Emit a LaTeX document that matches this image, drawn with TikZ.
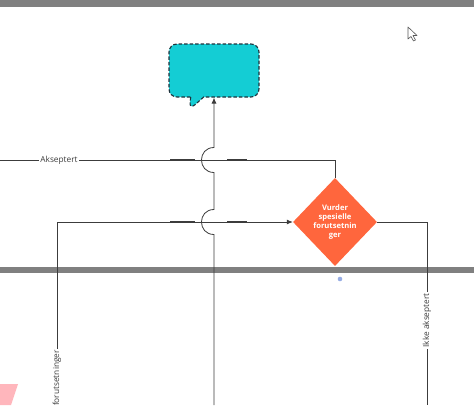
\documentclass[tikz,border=0pt]{standalone}
\usepackage{fontspec}
\setmainfont{Open Sans}
\setsansfont{Open Sans}
\usetikzlibrary{shapes.geometric,shapes.callouts,arrows.meta}
\definecolor{barcol}{RGB}{128,128,128}
\definecolor{linecol}{RGB}{60,60,60}
\definecolor{bubblecol}{RGB}{20,205,212}
\definecolor{bubbleedge}{RGB}{30,50,60}
\definecolor{diacol}{RGB}{255,102,61}
\definecolor{dotcol}{RGB}{150,172,228}
\definecolor{pinkcol}{RGB}{255,182,188}
\begin{document}
\begin{tikzpicture}[x=1pt,y=-1pt,
  bar/.style={fill=barcol,draw=none},
  conn/.style={draw=linecol,line width=0.8pt},
  hopmark/.style={draw=linecol,line width=1.3pt},
  arr/.style={-{Latex[length=6pt,width=5pt]}},
  lbl/.style={fill=white,inner sep=1pt,font=\fontsize{8.3}{10}\selectfont,text=linecol},
  bubble/.style={rectangle callout,rounded corners=8pt,fill=bubblecol,draw=bubbleedge,
    dash pattern=on 3.5pt off 2pt,line width=1.1pt,minimum width=90pt,minimum height=53pt,
    callout pointer width=13pt,inner sep=0pt},
  decision/.style={diamond,fill=diacol,draw=none,minimum width=84pt,minimum height=88pt,
    inner sep=0pt,align=center,text=white,font=\bfseries\fontsize{7.6}{9.3}\selectfont}]
\useasboundingbox (0,0) rectangle (474,405);
\clip (0,0) rectangle (474,405);
\fill[white] (0,0) rectangle (474,405);
% bars
\path[bar] (0,0) rectangle (474,7);
\path[bar] (0,267) rectangle (474,273);
% pink fragment
\fill[pinkcol] (0,384) -- (18,384) -- (11,405) -- (0,405) -- cycle;
% nodes
\node[bubble,callout absolute pointer={(189,110)}] (c) at (214,70.5) {};
\node[decision] (d) at (335,222) {Vurder\\spesielle\\forutsetnin\\ger};
% free ends
\coordinate (vb) at (214,405);
\coordinate (a0) at (0,160);
\coordinate (b0) at (57,405);
\coordinate (r0) at (427,405);
% connectors
\draw[conn] (d.north) |- (a0);
\draw[conn,arr] (b0) |- (d.west);
\draw[conn] (d.east) -| (r0);
\draw[hopmark] (170,160) -- (195,160) (227,160) -- (247,160);
\draw[hopmark] (170,222) -- (195,222) (227,222) -- (247,222);
\draw[conn,arr] (vb) -- (214,234.5) .. controls (197.3,234.5) and (197.3,209.5) .. (214,209.5)
  -- (214,172.5) .. controls (197.3,172.5) and (197.3,147.5) .. (214,147.5) -- (c.south);
% labels
\node[lbl] (la) at (59,160) {Akseptert};
\node[lbl,rotate=90,anchor=east] (lb) at (57,349) {forutsetninger};
\node[lbl,rotate=90] (lc) at (427,320.5) {Ikke akseptert};
% dot
\fill[dotcol] (340,279) circle[radius=2.3pt];
% cursor
\draw[fill=white,draw=gray!70!black,line width=0.6pt,line join=round]
  (408,27) -- (408,39) -- (411,36.5) -- (413.5,41) -- (415.5,40) -- (413,35.5) -- (417,35.5) -- cycle;
\end{tikzpicture}
\end{document}
